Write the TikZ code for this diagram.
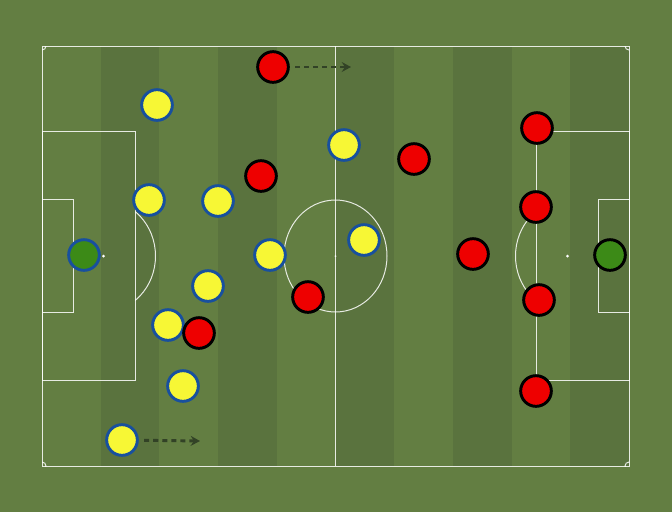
\documentclass[tikz,border=0pt]{standalone}
\usetikzlibrary{shadows,arrows.meta}
\definecolor{grass}{RGB}{99,126,66}
\definecolor{stripe}{RGB}{90,115,62}
\definecolor{kityellow}{RGB}{247,247,53}
\definecolor{kitblue}{RGB}{24,80,158}
\definecolor{kitred}{RGB}{238,0,0}
\definecolor{keeper}{RGB}{60,138,23}
\definecolor{runcol}{RGB}{50,66,38}
\begin{document}
\begin{tikzpicture}[x=0.75pt,y=-0.75pt,
  line/.style={draw=white,draw opacity=0.85,line width=0.75pt},
  player/.style={circle,minimum size=23pt,inner sep=0pt,line width=2.2pt,
    drop shadow={opacity=0.25,shadow xshift=0.5pt,shadow yshift=-0.6pt}},
  home/.style={player,fill=kityellow,draw=kitblue},
  away/.style={player,fill=kitred,draw=black},
  run/.style={-{Stealth[length=7pt,width=7.5pt,inset=2.5pt]},draw=runcol,line width=2.2pt,
    dash pattern=on 3.8pt off 3pt,shorten <=4pt}]
  \fill[grass] (0,0) rectangle (672,512);
  \foreach \i in {1,3,5,7,9}
    \fill[stripe] ({42+\i*58.7},46) rectangle ({42+(\i+1)*58.7},466);

  \draw[line] (42,46) rectangle (629,466);
  \draw[line] (335.5,46) -- (335.5,466);
  \draw[line] (335.5,256) ellipse [x radius=51.5,y radius=56];
  \draw[line] (42,131) rectangle (135,380);
  \draw[line] (42,199) rectangle (73,312);
  \draw[line] (536,131) rectangle (629,380);
  \draw[line] (598,199) rectangle (629,312);
  \fill[white] (335.5,256) circle [radius=1] (103.5,256) circle [radius=1.5] (567.5,256) circle [radius=1.5];
  \begin{scope}
    \clip (135,0) rectangle (300,512);
    \draw[line] (103.5,256) ellipse [x radius=52,y radius=56];
  \end{scope}
  \begin{scope}
    \clip (400,0) rectangle (536,512);
    \draw[line] (567.5,256) ellipse [x radius=52,y radius=56];
  \end{scope}
  \begin{scope}
    \clip (42,46) rectangle (629,466);
    \draw[line] (42,46) circle [radius=4] (629,46) circle [radius=4]
      (42,466) circle [radius=4] (629,466) circle [radius=4];
  \end{scope}

  \node[home,fill=keeper] (gkL) at (84,255) {};
  \node[home] (y1) at (157,105) {};
  \node[home] (y2) at (149,200) {};
  \node[home] (y3) at (218,201) {};
  \node[home] (y4) at (344,145) {};
  \node[home] (y5) at (364,240) {};
  \node[home] (y6) at (270,255) {};
  \node[home] (y7) at (208,286) {};
  \node[home] (y8) at (168,325) {};
  \node[home] (y9) at (183,386) {};
  \node[home] (y10) at (122,440) {};

  \node[away,fill=keeper] (gkR) at (610,255) {};
  \node[away] (r1) at (273,67) {};
  \node[away] (r2) at (261,176) {};
  \node[away] (r3) at (414,159) {};
  \node[away] (r4) at (537,128) {};
  \node[away] (r5) at (536,207) {};
  \node[away] (r6) at (473,254) {};
  \node[away] (r7) at (308,297) {};
  \node[away] (r8) at (199,333) {};
  \node[away] (r9) at (539,300) {};
  \node[away] (r10) at (536,391) {};

  \coordinate (r1run) at (351,67);
  \coordinate (y10run) at (200,441);
  \draw[run] (r1) -- (r1run);
  \draw[run] (y10) -- (y10run);
\end{tikzpicture}
\end{document}
